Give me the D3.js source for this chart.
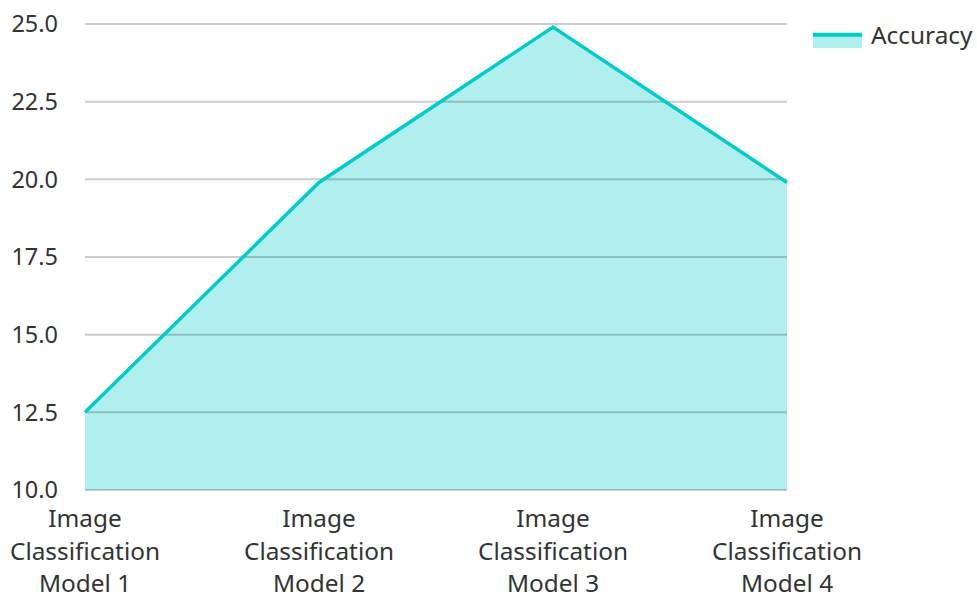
<!DOCTYPE html>
<html>
<head>
<meta charset="utf-8">
<script src="https://cdn.jsdelivr.net/npm/d3@7"></script>
<style>
  body { margin: 0; background: #fff; }
  text { font-family: "Noto Sans", "Open Sans", sans-serif; fill: #333; }
</style>
</head>
<body>
<svg id="chart" width="977" height="594"></svg>
<script>
// chart data
var categories = ["Image Classification Model 1", "Image Classification Model 2",
                  "Image Classification Model 3", "Image Classification Model 4"];
var labelLines = [["Image", "Classification", "Model 1"],
                  ["Image", "Classification", "Model 2"],
                  ["Image", "Classification", "Model 3"],
                  ["Image", "Classification", "Model 4"]];
var accuracy = [12.5, 19.9, 24.9, 19.9];
var yTicks = [10, 12.5, 15, 17.5, 20, 22.5, 25];
var seriesName = "Accuracy";

var LINE_COLOR = "#00cccc";
var FILL_COLOR = "#b0efee";

var svg = d3.select("#chart");
// note: "top" is taken by window.top, so use plot* names
var plotLeft = 85, plotRight = 787, plotTop = 24, plotBottom = 490;

var x = d3.scalePoint().domain(categories).range([plotLeft, plotRight]);
var y = d3.scaleLinear().domain([10, 25]).range([plotBottom, plotTop]);

// area under the line
var area = d3.area()
    .x(function(d, i) { return x(categories[i]); })
    .y0(y(10))
    .y1(function(d) { return y(d); });
svg.append("path")
    .datum(accuracy)
    .attr("d", area)
    .style("fill", FILL_COLOR);

// gridlines sit on top of the fill so they look darker there
svg.append("g").selectAll("line")
    .data(yTicks)
    .enter().append("line")
    .attr("x1", plotLeft)
    .attr("x2", plotRight)
    .attr("y1", function(d) { return y(d); })
    .attr("y2", function(d) { return y(d); })
    .style("stroke", "rgba(0,0,0,0.2)")
    .style("stroke-width", 2);

var line = d3.line()
    .x(function(d, i) { return x(categories[i]); })
    .y(function(d) { return y(d); });
svg.append("path")
    .datum(accuracy)
    .attr("d", line)
    .style("fill", "none")
    .style("stroke", LINE_COLOR)
    .style("stroke-width", 3.5);

// y tick labels
svg.append("g").selectAll("text")
    .data(yTicks)
    .enter().append("text")
    .attr("x", 58)
    .attr("y", function(d) { return y(d); })
    .attr("dy", "0.35em")
    .attr("text-anchor", "end")
    .style("font-size", "23.5px")
    .text(function(d) { return d3.format(".1f")(d); });

// x labels, three lines each
var xl = svg.append("g").selectAll("text")
    .data(categories)
    .enter().append("text")
    .attr("text-anchor", "middle")
    .style("font-size", "24.4px");
xl.selectAll("tspan")
    .data(function(d, i) { return labelLines[i].map(function(t) { return {t: t, c: d}; }); })
    .enter().append("tspan")
    .attr("x", function(d) { return x(d.c); })
    .attr("y", function(d, j) { return 527 + j * 32.5; })
    .text(function(d) { return d.t; });

// legend
var lg = svg.append("g");
lg.append("rect")
    .attr("x", 813).attr("y", 36)
    .attr("width", 49).attr("height", 12)
    .style("fill", FILL_COLOR);
lg.append("line")
    .attr("x1", 813).attr("x2", 862)
    .attr("y1", 34.7).attr("y2", 34.7)
    .style("stroke", LINE_COLOR)
    .style("stroke-width", 4);
lg.append("text")
    .attr("x", 871).attr("y", 44)
    .style("font-size", "24.4px")
    .text(seriesName);
</script>
</body>
</html>
